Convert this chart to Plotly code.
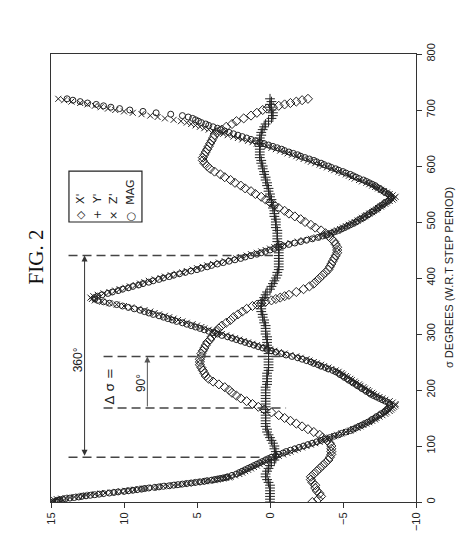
import plotly.graph_objects as go

# sigma in degrees (w.r.t. step period)
sigma = list(range(0, 725, 5))  # grid for X' and Y'
sigma_fine = list(range(0, 45)) + [45 + 2.5 * k for k in range(271)]  # grid for Z' and MAG

x_prime = [
    -2.9, -3.3, -3.5, -3.4, -3.2, -3.1, -3.1, -2.9, -2.8, -2.8,
    -3.0, -3.2, -3.4, -3.6, -3.8, -4.0, -4.1, -4.2, -4.2, -4.2,
    -4.2, -4.1, -3.9, -3.6, -3.4, -3.0, -2.6, -2.2, -1.8, -1.4,
    -1.0, -0.6, -0.1, 0.4, 0.8, 1.2, 1.6, 2.0, 2.3, 2.6,
    2.8, 3.1, 3.5, 3.9, 4.2, 4.4, 4.5, 4.6, 4.7, 4.8,
    4.8, 4.8, 4.7, 4.7, 4.6, 4.5, 4.4, 4.3, 4.1, 4.0,
    3.8, 3.7, 3.5, 3.3, 3.0, 2.7, 2.5, 2.2, 1.9, 1.6,
    1.2, 0.6, -0.1, -0.7, -1.3, -1.8, -2.3, -2.7, -3.0, -3.2,
    -3.4, -3.6, -3.8, -4.0, -4.1, -4.2, -4.3, -4.4, -4.5, -4.6,
    -4.6, -4.6, -4.5, -4.4, -4.2, -4.0, -3.8, -3.5, -3.1, -2.8,
    -2.4, -2.1, -1.7, -1.3, -1.0, -0.6, -0.3, 0.0, 0.3, 0.6,
    1.0, 1.3, 1.7, 2.0, 2.4, 2.7, 3.1, 3.4, 3.8, 4.1,
    4.3, 4.5, 4.6, 4.6, 4.5, 4.4, 4.3, 4.2, 4.1, 4.0,
    3.9, 3.8, 3.6, 3.3, 3.0, 2.6, 2.3, 1.8, 1.3, 0.9,
    0.5, -0.2, -1.0, -1.8, -2.6,
]
# extra X' readings where the curve is steep
x_extra_sigma = [352.5, 357.5, 362.5, 367.5, 702.5, 707.5, 712.5, 717.5]
x_extra = [0.9, 0.3, -0.4, -1.0, 0.2, -0.6, -1.4, -2.2]

y_prime = [
    0.0, 0.0, 0.0, 0.0, 0.0, 0.0, 0.0, 0.1, 0.2, 0.3,
    0.3, 0.2, 0.1, 0.0, -0.1, -0.3, -0.4, -0.4, -0.4, -0.3,
    -0.3, -0.2, -0.1, 0.0, 0.1, 0.2, 0.2, 0.3, 0.3, 0.3,
    0.3, 0.3, 0.3, 0.3, 0.3, 0.3, 0.3, 0.3, 0.3, 0.3,
    0.3, 0.3, 0.2, 0.2, 0.2, 0.2, 0.2, 0.1, 0.1, 0.1,
    0.1, 0.1, 0.1, 0.1, 0.1, 0.1, 0.2, 0.2, 0.2, 0.2,
    0.3, 0.3, 0.3, 0.3, 0.4, 0.4, 0.5, 0.5, 0.6, 0.6,
    0.6, 0.6, 0.5, 0.4, 0.3, 0.2, 0.0, -0.1, -0.2, -0.3,
    -0.4, -0.5, -0.5, -0.6, -0.6, -0.6, -0.6, -0.6, -0.6, -0.6,
    -0.6, -0.6, -0.6, -0.5, -0.5, -0.5, -0.5, -0.5, -0.4, -0.4,
    -0.4, -0.4, -0.3, -0.3, -0.3, -0.2, -0.2, -0.1, -0.1, 0.0,
    0.0, 0.1, 0.1, 0.2, 0.2, 0.3, 0.3, 0.4, 0.4, 0.5,
    0.5, 0.6, 0.6, 0.7, 0.7, 0.7, 0.7, 0.7, 0.7, 0.7,
    0.7, 0.6, 0.6, 0.5, 0.4, 0.3, 0.1, -0.1, -0.2, -0.2,
    -0.1, 0.0, 0.0, -0.1, 0.0,
]

z_prime = [
    15.0, 15.0, 14.9, 14.9, 14.8, 14.6, 14.3, 14.0, 13.7, 13.4,
    13.1, 12.8, 12.6, 12.3, 12.0, 11.6, 11.3, 10.9, 10.5, 10.2,
    9.9, 9.6, 9.3, 9.0, 8.7, 8.4, 8.0, 7.7, 7.3, 7.0,
    6.6, 6.3, 5.9, 5.6, 5.3, 5.0, 4.7, 4.4, 4.1, 3.8,
    3.6, 3.4, 3.2, 3.0, 2.8,
    2.7, 2.4, 2.1, 1.9, 1.7, 1.5, 1.3, 1.1,
    0.9, 0.7, 0.5, 0.3, 0.1, -0.1, -0.3, -0.6,
    -0.9, -1.2, -1.4, -1.7, -1.9, -2.2, -2.5, -2.8,
    -3.1, -3.4, -3.6, -3.9, -4.1, -4.4, -4.6, -4.9,
    -5.2, -5.5, -5.7, -6.0, -6.2, -6.4, -6.6, -6.8,
    -7.0, -7.2, -7.3, -7.5, -7.7, -7.9, -8.0, -8.2,
    -8.3, -8.4, -8.5, -8.6, -8.6, -8.4, -8.2, -7.9,
    -7.7, -7.5, -7.3, -7.1, -7.0, -6.8, -6.7, -6.5,
    -6.4, -6.2, -6.1, -5.9, -5.8, -5.6, -5.5, -5.3,
    -5.2, -5.0, -4.9, -4.7, -4.5, -4.2, -4.0, -3.7,
    -3.5, -3.2, -3.0, -2.7, -2.5, -2.1, -1.8, -1.4,
    -1.0, -0.6, -0.3, 0.0, 0.3, 0.6, 0.9, 1.2,
    1.5, 1.8, 2.1, 2.4, 2.7, 3.0, 3.3, 3.6,
    3.9, 4.2, 4.5, 4.7, 5.0, 5.3, 5.7, 6.0,
    6.3, 6.6, 6.9, 7.2, 7.6, 7.9, 8.2, 8.6,
    9.0, 9.5, 10.0, 10.5, 11.0, 11.5, 12.0, 12.2,
    12.3, 12.1, 11.8, 11.4, 11.0, 10.6, 10.3, 9.9,
    9.6, 9.2, 8.9, 8.6, 8.3, 7.9, 7.5, 7.2,
    6.8, 6.4, 6.0, 5.7, 5.3, 5.0, 4.6, 4.3,
    3.9, 3.5, 3.1, 2.7, 2.3, 2.0, 1.6, 1.3,
    0.9, 0.6, 0.3, 0.0, -0.3, -0.6, -1.0, -1.4,
    -1.9, -2.3, -2.8, -3.2, -3.6, -3.9, -4.2, -4.4,
    -4.6, -4.8, -5.0, -5.2, -5.4, -5.6, -5.8, -6.0,
    -6.2, -6.3, -6.5, -6.6, -6.8, -7.0, -7.1, -7.3,
    -7.4, -7.6, -7.7, -7.9, -8.0, -8.2, -8.4, -8.5,
    -8.6, -8.4, -8.2, -8.0, -7.8, -7.6, -7.4, -7.2,
    -7.0, -6.8, -6.6, -6.3, -6.1, -5.8, -5.6, -5.4,
    -5.2, -4.9, -4.7, -4.4, -4.2, -3.9, -3.6, -3.4,
    -3.1, -2.8, -2.6, -2.3, -2.0, -1.8, -1.5, -1.2,
    -1.0, -0.7, -0.4, -0.1, 0.2, 0.5, 0.9, 1.2,
    1.5, 1.9, 2.2, 2.5, 2.9, 3.2, 3.5, 3.9,
    4.2, 4.5, 4.8, 5.1, 5.4, 5.7, 6.1, 6.6,
    7.2, 7.7, 8.2, 8.8, 9.4, 10.0, 10.6, 11.1,
    11.6, 12.0, 12.5, 13.0, 13.6, 14.1, 14.5,
]

mag = [
    14.6, 14.6, 14.5, 14.5, 14.4, 14.2, 14.0, 13.7, 13.4, 13.1,
    12.9, 12.6, 12.3, 12.0, 11.7, 11.4, 11.0, 10.7, 10.4, 10.0,
    9.7, 9.4, 9.1, 8.8, 8.6, 8.3, 7.9, 7.6, 7.3, 6.9,
    6.6, 6.3, 6.0, 5.7, 5.4, 5.1, 4.8, 4.5, 4.3, 4.0,
    3.8, 3.6, 3.4, 3.2, 3.0,
    2.9, 2.6, 2.3, 2.1, 1.9, 1.7, 1.5, 1.3,
    1.1, 0.9, 0.7, 0.5, 0.3, 0.1, -0.1, -0.4,
    -0.6, -0.9, -1.1, -1.4, -1.7, -2.0, -2.3, -2.6,
    -2.9, -3.2, -3.5, -3.8, -4.1, -4.4, -4.7, -4.9,
    -5.2, -5.5, -5.7, -5.9, -6.1, -6.3, -6.5, -6.7,
    -6.9, -7.0, -7.2, -7.3, -7.5, -7.6, -7.8, -7.9,
    -8.0, -8.1, -8.2, -8.2, -8.2, -8.1, -7.9, -7.7,
    -7.5, -7.3, -7.1, -6.9, -6.8, -6.6, -6.5, -6.3,
    -6.2, -6.0, -5.9, -5.7, -5.6, -5.4, -5.3, -5.1,
    -5.0, -4.8, -4.7, -4.5, -4.3, -4.0, -3.8, -3.5,
    -3.3, -3.0, -2.8, -2.5, -2.2, -1.9, -1.5, -1.1,
    -0.8, -0.4, -0.1, 0.2, 0.5, 0.8, 1.1, 1.4,
    1.7, 2.0, 2.3, 2.6, 2.9, 3.3, 3.6, 3.9,
    4.2, 4.5, 4.8, 5.1, 5.4, 5.7, 6.0, 6.4,
    6.7, 7.0, 7.3, 7.6, 8.0, 8.3, 8.6, 8.9,
    9.3, 9.7, 10.1, 10.5, 11.0, 11.4, 11.8, 12.0,
    12.0, 11.8, 11.5, 11.1, 10.8, 10.4, 10.1, 9.7,
    9.4, 9.0, 8.7, 8.3, 8.0, 7.6, 7.3, 6.9,
    6.6, 6.2, 5.8, 5.4, 5.0, 4.7, 4.3, 4.0,
    3.6, 3.2, 2.8, 2.4, 2.0, 1.7, 1.3, 0.9,
    0.6, 0.3, 0.0, -0.3, -0.6, -0.9, -1.3, -1.7,
    -2.1, -2.5, -2.9, -3.3, -3.6, -3.9, -4.2, -4.4,
    -4.7, -4.9, -5.1, -5.3, -5.5, -5.7, -5.9, -6.0,
    -6.2, -6.4, -6.5, -6.7, -6.8, -7.0, -7.1, -7.3,
    -7.4, -7.5, -7.7, -7.8, -7.9, -8.1, -8.2, -8.3,
    -8.3, -8.2, -8.1, -7.9, -7.8, -7.6, -7.5, -7.3,
    -7.2, -7.0, -6.8, -6.6, -6.4, -6.1, -5.9, -5.7,
    -5.5, -5.2, -5.0, -4.7, -4.5, -4.2, -4.0, -3.7,
    -3.5, -3.2, -3.0, -2.7, -2.4, -2.1, -1.9, -1.6,
    -1.3, -1.0, -0.8, -0.5, -0.2, 0.1, 0.4, 0.7,
    1.0, 1.3, 1.6, 1.9, 2.2, 2.5, 2.8, 3.1,
    3.4, 3.6, 3.9, 4.2, 4.4, 4.7, 4.9, 5.1,
    5.3, 5.6, 6.0, 6.8, 7.8, 8.7, 9.6, 10.3,
    10.9, 11.4, 11.9, 12.5, 13.0, 13.5, 13.9,
]

assert len(x_prime) == len(sigma) and len(y_prime) == len(sigma)
assert len(z_prime) == len(sigma_fine) and len(mag) == len(sigma_fine)

series_names = ["X'", "Y'", "Z'", "MAG"]
series_symbols = ["diamond-open", "cross-thin", "x-thin", "circle-open"]
series_sizes = [7, 7, 6, 6]
legend_glyphs = ["\u25c7", "+", "\u00d7", "\u25cb"]

# dashed reference lines (sigma) used by the two period arrows
ref_sigma = [80, 168, 260, 440]

ink = "#222222"
fig = go.Figure()

series_x = [x_prime + x_extra, y_prime, z_prime, mag]
series_y = [sigma + x_extra_sigma, sigma, sigma_fine, sigma_fine]
for vals, sig, name, sym, sz in zip(series_x, series_y, series_names, series_symbols, series_sizes):
    fig.add_trace(go.Scatter(
        x=vals, y=sig, mode="markers", name=name,
        marker=dict(symbol=sym, size=sz, color=ink, line=dict(width=1, color=ink)),
        showlegend=False,
    ))

# dashed lines
dash_spans = [(13.8, -0.4), (11.4, -1.1), (11.4, -1.1), (13.8, -0.2)]
for s, (x0, x1) in zip(ref_sigma, dash_spans):
    fig.add_shape(type="line", xref="x", yref="y", x0=x0, x1=x1, y0=s, y1=s,
                  line=dict(color="#444444", width=1.5, dash="9px,5px"))

# 360 degree arrow (both heads)
fig.add_annotation(x=12.7, y=ref_sigma[3], ax=12.7, ay=ref_sigma[0], xref="x", yref="y",
                   axref="x", ayref="y", text="", showarrow=True, arrowhead=2,
                   arrowside="end+start", arrowsize=1.2, arrowwidth=1, arrowcolor="#333333")
# 90 degree arrow
fig.add_annotation(x=8.4, y=ref_sigma[2], ax=8.4, ay=ref_sigma[1], xref="x", yref="y",
                   axref="x", ayref="y", text="", showarrow=True, arrowhead=2,
                   arrowsize=1.2, arrowwidth=1, arrowcolor="#555555")

label_font = dict(family="Liberation Sans, Arial", size=12, color=ink)
fig.add_annotation(x=13.15, y=253, text="360°", textangle=-90, showarrow=False,
                   xref="x", yref="y", font=label_font)
fig.add_annotation(x=8.85, y=212, text="90°", textangle=-90, showarrow=False,
                   xref="x", yref="y", font=label_font)
fig.add_annotation(x=11.0, y=207, text="Δ σ =", textangle=-90, showarrow=False,
                   xref="x", yref="y", font=dict(family="DejaVu Sans", size=13, color=ink))

# rotated legend box
fig.add_shape(type="rect", xref="x", yref="y", x0=13.77, x1=8.77, y0=500, y1=591,
              line=dict(color=ink, width=1.2), fillcolor="white")
legend_x = [13.0, 11.85, 10.7, 9.55]
legend_y = [528, 528, 528, 538]
for gx, gy, glyph, name in zip(legend_x, legend_y, legend_glyphs, series_names):
    fig.add_annotation(x=gx, y=gy, text=f"{glyph}  {name}", textangle=-90, showarrow=False,
                       xref="x", yref="y",
                       font=dict(family="DejaVu Sans", size=11, color=ink))

# axis title and figure caption (the page is rotated)
fig.add_annotation(xref="paper", yref="paper", x=1.0, xshift=33, y=0.5, xanchor="center",
                   yanchor="middle", text="σ DEGREES (W.R.T STEP PERIOD)", textangle=-90,
                   showarrow=False,
                   font=dict(family="Liberation Sans, Arial", size=11, color=ink))
fig.add_annotation(xref="paper", yref="paper", x=0.0, xshift=-15, y=0.546, xanchor="center",
                   yanchor="middle", text="FIG. 2", textangle=-90, showarrow=False,
                   font=dict(family="Liberation Serif, Times New Roman", size=21, color="#111111"))

axis_common = dict(showgrid=False, zeroline=False, showline=True, linecolor="#333333",
                   linewidth=1, mirror=True, ticks="outside", ticklen=5, tickwidth=1,
                   tickcolor="#333333", tickangle=-90,
                   tickfont=dict(family="Liberation Sans, Arial", size=11, color=ink))

fig.update_layout(
    width=474, height=554,
    margin=dict(l=43, r=66, t=46, b=60),
    paper_bgcolor="white", plot_bgcolor="white",
    xaxis=dict(range=[15, -10], tickvals=[15, 10, 5, 0, -5, -10], **axis_common),
    yaxis=dict(range=[0, 800], side="right", tickvals=list(range(0, 900, 100)), **axis_common),
)

fig.write_html("out.html")
